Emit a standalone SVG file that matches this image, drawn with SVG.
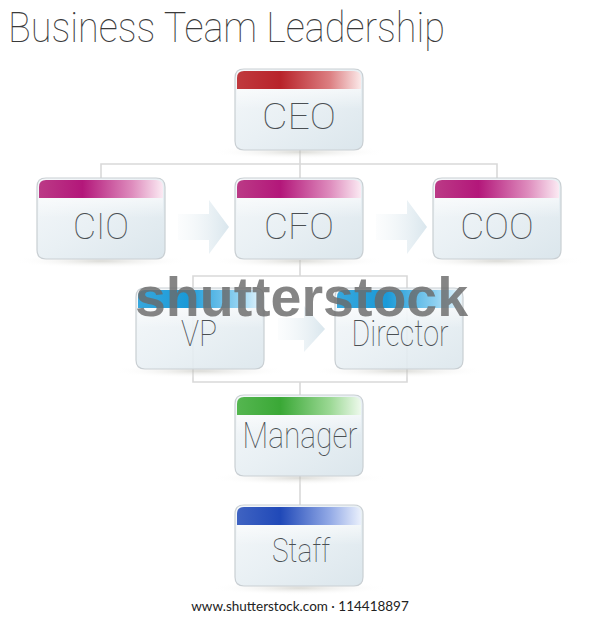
<svg xmlns="http://www.w3.org/2000/svg" width="600" height="620" viewBox="0 0 600 620">
<defs>
<style>
.title{font-family:"Roboto","Lato","Open Sans",sans-serif;font-weight:100;font-size:42px;fill:#3a3a3a}
.lbl{font-family:"Roboto","Lato","Open Sans",sans-serif;font-weight:100;font-size:37px;fill:#4a4f53;text-anchor:middle}
.box{fill:url(#boxg);stroke:#c9cfd3;stroke-width:1.2}
.gloss{fill:url(#glossg)}
.conn{fill:none;stroke:#d9d9d9;stroke-width:1.6}
.arrow{fill:url(#arrg)}
.shadow{fill:url(#shg)}
.wm{font-family:"Liberation Sans","DejaVu Sans",sans-serif;font-weight:bold;font-size:56px;fill:#6a6a6a;fill-opacity:0.82}
.foot{font-family:"Lato","Open Sans","Liberation Sans",sans-serif;font-size:13.5px;fill:#222;text-anchor:middle}
</style>
<linearGradient id="boxg" x1="0" y1="0" x2="1" y2="1">
<stop offset="0" stop-color="#f5f8fa"/>
<stop offset="0.5" stop-color="#e9f0f4"/>
<stop offset="1" stop-color="#dbe6ec"/>
</linearGradient>
<linearGradient id="glossg" x1="0" y1="0" x2="0" y2="1">
<stop offset="0" stop-color="#fff" stop-opacity="0.55"/>
<stop offset="1" stop-color="#fff" stop-opacity="0"/>
</linearGradient>
<linearGradient id="arrg" x1="0" y1="0" x2="1" y2="0">
<stop offset="0" stop-color="#eef4f7" stop-opacity="0.2"/>
<stop offset="1" stop-color="#d9e6ed"/>
</linearGradient>
<radialGradient id="shg" cx="0.5" cy="0.5" r="0.5">
<stop offset="0" stop-color="#bdbdb5" stop-opacity="0.55"/>
<stop offset="1" stop-color="#ffffff" stop-opacity="0"/>
</radialGradient>
<linearGradient id="red" x1="0" y1="0" x2="1" y2="0">
<stop offset="0" stop-color="#c0393d"/>
<stop offset="0.35" stop-color="#b8232a"/>
<stop offset="0.75" stop-color="#dc7f82"/>
<stop offset="1" stop-color="#fbe9e9"/>
</linearGradient>
<linearGradient id="mag" x1="0" y1="0" x2="1" y2="0">
<stop offset="0" stop-color="#bb3a86"/>
<stop offset="0.35" stop-color="#b3177a"/>
<stop offset="0.75" stop-color="#de8cbd"/>
<stop offset="1" stop-color="#fbeaf3"/>
</linearGradient>
<linearGradient id="cyan" x1="0" y1="0" x2="1" y2="0">
<stop offset="0" stop-color="#37a7dd"/>
<stop offset="0.4" stop-color="#1a9ad8"/>
<stop offset="0.8" stop-color="#8fd1f1"/>
<stop offset="1" stop-color="#e6f5fc"/>
</linearGradient>
<linearGradient id="green" x1="0" y1="0" x2="1" y2="0">
<stop offset="0" stop-color="#55b650"/>
<stop offset="0.35" stop-color="#3aa836"/>
<stop offset="0.75" stop-color="#9bd894"/>
<stop offset="1" stop-color="#eef9ec"/>
</linearGradient>
<linearGradient id="blue" x1="0" y1="0" x2="1" y2="0">
<stop offset="0" stop-color="#3f63c2"/>
<stop offset="0.35" stop-color="#2049b8"/>
<stop offset="0.75" stop-color="#93aae6"/>
<stop offset="1" stop-color="#eaf0fc"/>
</linearGradient>
<path id="hdr" d="M2,20 V9 Q2,2 9,2 H119 Q126,2 126,9 V20 Z"/>
<path id="shape" d="M0,9 Q0,0 9,0 H119 Q128,0 128,9 V72 Q128,81 119,81 H9 Q0,81 0,72 Z"/>
</defs>
<rect width="600" height="620" fill="#ffffff"/>
<text class="title" x="8" y="42" textLength="437" lengthAdjust="spacingAndGlyphs">Business Team Leadership</text>

<g id="connectors">
<path class="conn" d="M300,150 V178 M101,178 V164 H497 V178"/>
<path class="conn" d="M300,260 V276 M193,276 H407 V382 H193 Z M300,382 V395"/>
<path class="conn" d="M300,476 V505"/>
<polygon class="arrow" points="178,214 209,214 209,200 229,227 209,254 209,240 178,240"/>
<polygon class="arrow" points="376,214 407,214 407,200 427,227 407,254 407,240 376,240"/>
<polygon class="arrow" points="278,318 304,318 304,306 325,329 304,352 304,340 278,340"/>
</g>

<g id="ceo" transform="translate(235,69)">
<ellipse class="shadow" cx="64" cy="83" rx="88" ry="7"/>
<use href="#shape" class="box"/>
<use href="#hdr" fill="url(#red)"/>
<rect x="2" y="20" width="124" height="20" class="gloss"/>
<text class="lbl" x="64" y="60" textLength="74" lengthAdjust="spacingAndGlyphs">CEO</text>
</g>
<g id="cio" transform="translate(37,178)">
<ellipse class="shadow" cx="64" cy="83" rx="88" ry="7"/>
<use href="#shape" class="box"/>
<use href="#hdr" fill="url(#mag)"/>
<rect x="2" y="20" width="124" height="20" class="gloss"/>
<text class="lbl" x="64" y="61" textLength="56" lengthAdjust="spacingAndGlyphs">CIO</text>
</g>
<g id="cfo" transform="translate(235,178)">
<ellipse class="shadow" cx="64" cy="83" rx="88" ry="7"/>
<use href="#shape" class="box"/>
<use href="#hdr" fill="url(#mag)"/>
<rect x="2" y="20" width="124" height="20" class="gloss"/>
<text class="lbl" x="64" y="61">CFO</text>
</g>
<g id="coo" transform="translate(433,178)">
<ellipse class="shadow" cx="64" cy="83" rx="88" ry="7"/>
<use href="#shape" class="box"/>
<use href="#hdr" fill="url(#mag)"/>
<rect x="2" y="20" width="124" height="20" class="gloss"/>
<text class="lbl" x="64" y="61">COO</text>
</g>
<g id="vp" transform="translate(136,288)">
<ellipse class="shadow" cx="64" cy="83" rx="88" ry="7"/>
<use href="#shape" class="box" fill-opacity="0.9"/>
<use href="#hdr" fill="url(#cyan)"/>
<rect x="2" y="20" width="124" height="20" class="gloss"/>
<text class="lbl" x="63" y="58" textLength="36" lengthAdjust="spacingAndGlyphs">VP</text>
</g>
<g id="director" transform="translate(335,288)">
<ellipse class="shadow" cx="64" cy="83" rx="88" ry="7"/>
<use href="#shape" class="box" fill-opacity="0.9"/>
<use href="#hdr" fill="url(#cyan)"/>
<rect x="2" y="20" width="124" height="20" class="gloss"/>
<text class="lbl" x="65" y="58" textLength="97" lengthAdjust="spacingAndGlyphs">Director</text>
</g>
<g id="manager" transform="translate(235,395)">
<ellipse class="shadow" cx="64" cy="83" rx="88" ry="7"/>
<use href="#shape" class="box"/>
<use href="#hdr" fill="url(#green)"/>
<rect x="2" y="20" width="124" height="20" class="gloss"/>
<text class="lbl" x="65" y="53" textLength="115" lengthAdjust="spacingAndGlyphs">Manager</text>
</g>
<g id="staff" transform="translate(235,505)">
<ellipse class="shadow" cx="64" cy="83" rx="88" ry="7"/>
<use href="#shape" class="box"/>
<use href="#hdr" fill="url(#blue)"/>
<rect x="2" y="20" width="124" height="20" class="gloss"/>
<text class="lbl" x="66" y="57" style="font-size:34px" textLength="58" lengthAdjust="spacingAndGlyphs">Staff</text>
</g>

<text class="wm" x="135" y="316" textLength="333" lengthAdjust="spacingAndGlyphs">shutterstock</text>
<text class="foot" x="300" y="611">www.shutterstock.com · 114418897</text>
</svg>
